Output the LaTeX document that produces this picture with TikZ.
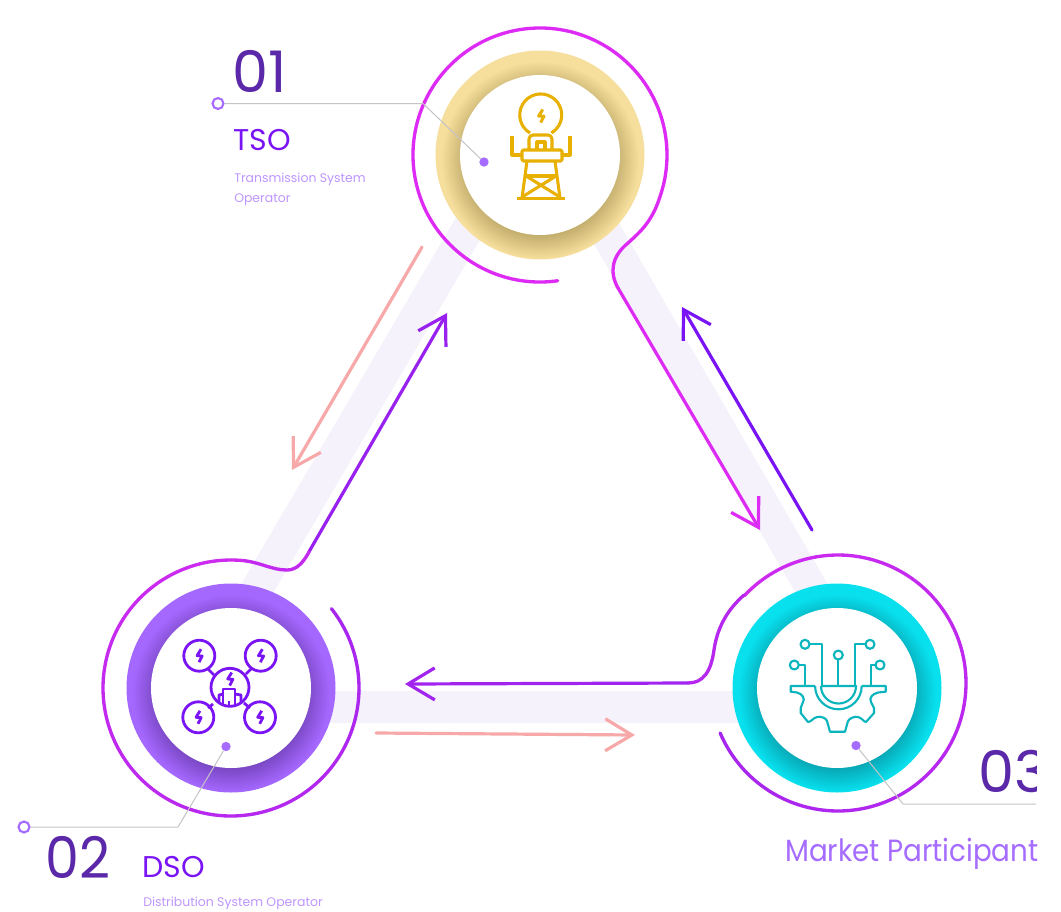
\documentclass[tikz,border=0pt]{standalone}
\usepackage{fontspec}
\usepackage{graphicx}
\setmainfont{Poppins}
\usetikzlibrary{arrows.meta,calc}
\definecolor{bandc}{HTML}{F5F2FB}
\definecolor{goldr}{HTML}{F6DF9C}\definecolor{goldd}{HTML}{C4AE6E}
\definecolor{purpr}{HTML}{A568FF}\definecolor{purpd}{HTML}{7A48C4}
\definecolor{cyanr}{HTML}{08E0EE}\definecolor{cyand}{HTML}{08A8B6}
\definecolor{magA}{HTML}{DD2BF5}\definecolor{magB}{HTML}{D02BF0}\definecolor{vioA}{HTML}{A626EE}
\definecolor{pinkc}{HTML}{F7A9A9}\definecolor{vioB}{HTML}{7A14F5}
\definecolor{iconG}{HTML}{E8B000}\definecolor{iconC}{HTML}{0BB5BE}
\definecolor{numc}{HTML}{5A28A8}\definecolor{lilac}{HTML}{A56CFF}\definecolor{lilacL}{HTML}{BE96FF}
\definecolor{leadc}{HTML}{C4C4C4}
\pgfdeclareradialshading{goldS}{\pgfpoint{0bp}{0bp}}{color(0bp)=(goldd);color(19bp)=(goldd);color(25bp)=(goldr);color(50bp)=(goldr)}
\pgfdeclareradialshading{purpS}{\pgfpoint{0bp}{0bp}}{color(0bp)=(purpd);color(19bp)=(purpd);color(25bp)=(purpr);color(50bp)=(purpr)}
\pgfdeclareradialshading{cyanS}{\pgfpoint{0bp}{0bp}}{color(0bp)=(cyand);color(19bp)=(cyand);color(25bp)=(cyanr);color(50bp)=(cyanr)}
\tikzset{
  x=0.75pt,y=-0.75pt,
  band/.style={line width=24pt,draw=bandc},
  hole/.style={circle,fill=white,minimum size=120pt,inner sep=0pt},
  barb/.style={-{Straight Barb[length=20pt,width=24pt,line width=#1]}},
  ringl/.style={line width=2.5pt,line cap=round},
  arrowl/.style={line width=2.4pt,line cap=round,barb=2.4pt},
  leader/.style={line width=0.75pt,draw=leadc},
  fulld/.style={circle,fill=lilac,minimum size=7pt,inner sep=0pt},
  opend/.style={circle,draw=lilac,line width=1.6pt,fill=white,minimum size=8.2pt,inner sep=0pt},
  tower/.style={line width=2.3pt,draw=iconG,line join=round},
  drone/.style={line width=2.1pt,draw=vioB,line join=round},
  gearl/.style={line width=1.6pt,draw=iconC,line join=round},
  numt/.style={text=numc,anchor=base west,inner sep=0pt,font=\fontsize{43}{43}\selectfont},
  bigt/.style={text=vioB,anchor=base west,inner sep=0pt,font=\fontsize{22.5}{24}\selectfont},
  smallt/.style={text=lilacL,anchor=base west,inner sep=0pt,font=\fontsize{9.35}{10}\selectfont},
  mkt/.style={text=lilac,anchor=base west,inner sep=0pt,font=\fontsize{23}{24}\selectfont}
}
\newcommand{\gradarc}[7]{%
  \foreach \i in {1,...,24}{%
    \pgfmathsetmacro{\aa}{#4+(#5-#4)*(\i-1)/24}%
    \pgfmathsetmacro{\ab}{#4+(#5-#4)*\i/24}%
    \pgfmathsetmacro{\pc}{100*(\i-0.5)/24}%
    \draw[ringl,color={#7!\pc!#6}] ([shift={(\aa:#3)}]#1,#2) arc[start angle=\aa,end angle=\ab,radius=#3];
  }}
\newcommand{\boltic}[3]{\draw[#3] (#1+1.7,#2-6.5) -- ++(-4,6.5) -- ++(5.2,0.3) -- ++(-3.2,6.2);}
\newcommand{\ringdisc}[4]{%
  \fill[#3] (#1,#2) circle[radius=104.5];
  \path[shading=#4] (#1,#2+5) circle[radius=99];
}
\begin{document}
\begin{tikzpicture}
\useasboundingbox (0,0) rectangle (1061,911);
\fill[white] (0,0) rectangle (1061,911);
% bands
\draw[band] (490,191) -- (254,594);
\draw[band] (590,205) -- (820,603);
\draw[band] (300,707) -- (780,707);
% discs
\ringdisc{540}{155}{goldr}{goldS}
\ringdisc{231}{688}{purpr}{purpS}
\ringdisc{837}{688}{cyanr}{cyanS}
\node[hole] (tso) at (540,155) {};
\node[hole] (dso) at (231,688) {};
\node[hole] (mkp) at (837,688) {};
% outer rings and arrows
\draw[ringl,magA] ([shift={(82:127)}]540,155) arc[start angle=82,end angle=379,radius=127]
  .. controls (652,222) and (640,232) .. (628,243)
  .. controls (612,256) and (609,272) .. (618,288);
\draw[arrowl,magA] (618,288) -- (760,530);
\gradarc{231}{688}{128}{276}{-38.3}{magB}{vioA}
\draw[ringl,color=magB!70!vioA] ([shift={(276:128)}]231,688)
  .. controls (262,563) and (272,570) .. (287,570)
  .. controls (297,570) and (304,562) .. (310,550);
\draw[arrowl,color=vioA!70!vioB] (310,550) -- (447,313);
\gradarc{838}{683}{128}{-137}{157}{magB}{vioA}
\draw[ringl,color=magB!40!vioA] (744,595)
  .. controls (725,612) and (717,630) .. (714,650)
  .. controls (711,672) and (703,683) .. (688,683);
\draw[arrowl,color=vioA!90!vioB] (688,683) -- (405,684);
\draw[arrowl,pinkc] (422,247) -- (292,470);
\draw[arrowl,pinkc] (376,733) -- (635,735);
\draw[arrowl,vioB] (812,530) -- (682,307);
% tower icon
\draw[tower] (530,133) arc[start angle=120.7,end angle=419.3,radius=21];
\boltic{541}{116}{tower}
\draw[tower,rounded corners=3pt] (529,150) -- (529,135) -- (552,135) -- (552,150);
\draw[tower] (537,150) -- (537,142) -- (545,142) -- (545,150);
\draw[tower,rounded corners=1pt] (522,150) rectangle (562,161);
\draw[tower] (512,136) -- (512,155) -- (522,155);
\draw[tower] (570,136) -- (570,155) -- (562,155);
\draw[tower] (527,161) -- (522,198);
\draw[tower] (555,161) -- (560,198);
\draw[tower] (526,176) -- (556,176);
\draw[tower] (526,176) -- (560,197);
\draw[tower] (556,176) -- (522,197);
\draw[tower] (517,198.5) -- (565,198.5);
% network icon
\foreach \cx/\cy in {199.3/655.7,260.7/655.7,198.3/717.3,260/717.3}{
  \draw[drone] (\cx,\cy) circle[radius=15.5];
  \boltic{\cx}{\cy}{drone}
}
\draw[drone] (230,687.3) circle[radius=19];
\boltic{230}{679}{drone}
\draw[drone] (208,669) -- (214,675);
\draw[drone] (252,668) -- (246,674);
\draw[drone] (213,704) -- (208,708);
\draw[drone] (244,703) -- (250,708);
\draw[drone] (223,706) -- (223,689) -- (235,689) -- (235,706);
\draw[drone] (223,694) -- (219,695) -- (219,703);
\draw[drone] (235,694) -- (241,695) -- (241,703);
\draw[drone] (229,701) -- (229,706);
% gear icon
\draw[gearl] (815,686) -- (790.7,686) -- (790.7,691.7) -- (797,692.5)
  .. controls (803,694) and (805,699) .. (803,702) -- (800.7,708) -- (800.7,713) -- (808,722)
  .. controls (811,722) and (813,718) .. (817,717) .. controls (821,716) and (826,718) .. (827,721)
  -- (830,731.7) -- (845,731.7) -- (848,721)
  .. controls (850,718) and (855,716) .. (858,717) .. controls (862,718) and (864,722) .. (866,722)
  -- (874,713) -- (874,708) -- (871,702)
  .. controls (869,698) and (872,694) .. (878,692.5) -- (885.7,691.7) -- (885.7,686) -- (861.7,686);
\draw[gearl] (861.7,686) arc[start angle=0,end angle=180,radius=23.3];
\draw[gearl] (821,686) -- (856,686) arc[start angle=0,end angle=180,radius=17.5];
\draw[gearl] (838.3,659.5) -- (838.3,686);
\draw[gearl] (809.5,644.3) -- (821.7,644.3) -- (821.7,686);
\draw[gearl] (865.5,644.3) -- (855,644.3) -- (855,686);
\draw[gearl] (798.8,665) -- (805,665) -- (805,686);
\draw[gearl] (875.5,665) -- (870.7,665) -- (870.7,686);
\foreach \cx/\cy in {838.3/655,805/644.3,870/644.3,794.3/665,880/665}{
  \draw[gearl] (\cx,\cy) circle[radius=4.5];
}
% leaders
\node[fulld] (d1) at (484,162) {};
\node[fulld] (d2) at (226,746.5) {};
\node[fulld] (d3) at (856,745.5) {};
\node[opend] (o1) at (218,103.5) {};
\node[opend] (o2) at (24,827) {};
\coordinate (c1) at (423,103.5);
\coordinate (c2) at (178,827);
\coordinate (c3) at (903,804);
\coordinate (e3) at (1036,804);
\draw[leader] (o1) -- (c1) -- (d1);
\draw[leader] (o2) -- (c2) -- (d2);
\draw[leader] (d3) -- (c3) -- (e3);
% texts
\node[numt] (n1) at (232,92) {01};
\node[bigt] (t1) at (233,150) {TSO};
\node[smallt] (s1) at (234,182) {Transmission System};
\node[smallt] (s1b) at (234,202) {Operator};
\node[numt] (n2) at (45,878) {\scalebox{.94}[1]{02}};
\node[bigt] (t2) at (142,877) {DSO};
\node[smallt] (s2) at (143,906) {Distribution System Operator};
\begin{scope}
\clip (900,740) rectangle (1036,800);
\node[numt] (n3) at (978,792) {03};
\end{scope}
\node[mkt] (m3) at (785,861) {\scalebox{.905}[1]{Market Participant}};
\end{tikzpicture}
\end{document}
